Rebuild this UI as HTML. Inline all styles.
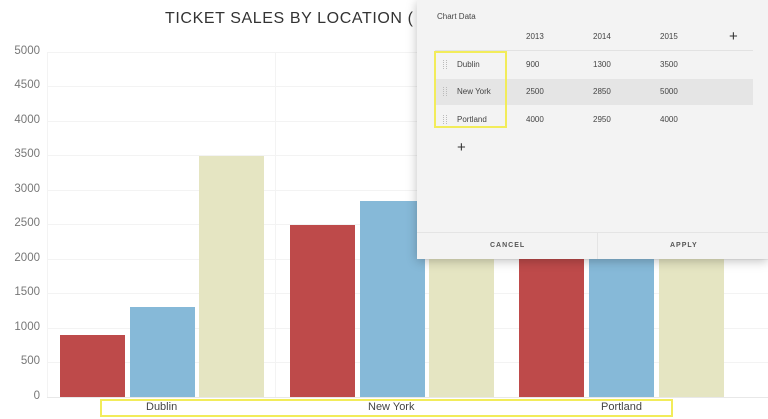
<!DOCTYPE html>
<html><head><style>
body{margin:0;width:768px;height:419px;overflow:hidden;background:#fff;font-family:"Liberation Sans",sans-serif;position:relative}
.a{position:absolute}
.yl{position:absolute;left:0;width:40px;text-align:right;font-size:11.5px;color:#777}
.g{position:absolute;left:47px;width:721px;height:1px;background:#f3f3f3}
.b{position:absolute;width:65px}
.r{background:#be4a4a}.u{background:#86b9d8}.e{background:#e5e5c2}
.t{position:absolute;font-size:8px;color:#444}
</style></head><body>
<div class="a" style="left:165px;top:10px;font-size:16px;letter-spacing:0.6px;color:#333;white-space:nowrap">TICKET SALES BY LOCATION (</div>
<div class="g" style="top:52px"></div><div class="g" style="top:86px"></div><div class="g" style="top:121px"></div><div class="g" style="top:155px"></div><div class="g" style="top:190px"></div><div class="g" style="top:224px"></div><div class="g" style="top:259px"></div><div class="g" style="top:293px"></div><div class="g" style="top:328px"></div><div class="g" style="top:362px"></div><div class="g" style="top:397px;background:#e8e8e8"></div>
<div class="a" style="left:47px;top:52px;width:1px;height:345px;background:#f3f3f3"></div>
<div class="a" style="left:275px;top:52px;width:1px;height:345px;background:#f3f3f3"></div>
<div class="yl" style="top:45px">5000</div><div class="yl" style="top:79px">4500</div><div class="yl" style="top:114px">4000</div><div class="yl" style="top:148px">3500</div><div class="yl" style="top:183px">3000</div><div class="yl" style="top:217px">2500</div><div class="yl" style="top:252px">2000</div><div class="yl" style="top:286px">1500</div><div class="yl" style="top:321px">1000</div><div class="yl" style="top:355px">500</div><div class="yl" style="top:390px">0</div>
<div class="b r" style="left:60px;top:335px;height:62px"></div>
<div class="b u" style="left:130px;top:307px;height:90px"></div>
<div class="b e" style="left:199px;top:156px;height:241px"></div>
<div class="b r" style="left:290px;top:225px;height:172px"></div>
<div class="b u" style="left:360px;top:201px;height:196px"></div>
<div class="b e" style="left:429px;top:52px;height:345px"></div>
<div class="b r" style="left:519px;top:121px;height:276px"></div>
<div class="b u" style="left:589px;top:194px;height:203px"></div>
<div class="b e" style="left:659px;top:121px;height:276px"></div>
<div class="a" style="left:100px;top:399px;width:569px;height:14px;border:2px solid #f2ec5a"></div>
<div class="a" style="left:146px;top:401px;font-size:11px;color:#444">Dublin</div>
<div class="a" style="left:368px;top:401px;font-size:11px;color:#444">New York</div>
<div class="a" style="left:601px;top:401px;font-size:11px;color:#444">Portland</div>
<div class="a" style="left:417px;top:0;width:351px;height:259px;background:#f3f3f3;box-shadow:0 2px 10px rgba(0,0,0,.25)">
<div class="t" style="left:20px;top:12px">Chart Data</div>
<div class="t" style="left:109px;top:32px">2013</div><div class="t" style="left:176px;top:32px">2014</div><div class="t" style="left:243px;top:32px">2015</div>
<div class="a" style="left:312px;top:28px;font-size:15px;color:#333">+</div>
<div class="a" style="left:18px;top:50px;width:318px;height:1px;background:#e2e2e2"></div>
<div class="a" style="left:18px;top:79px;width:318px;height:26px;background:#e5e5e5"></div>
<div class="t" style="left:40px;top:60px">Dublin</div><div class="t" style="left:109px;top:60px">900</div><div class="t" style="left:176px;top:60px">1300</div><div class="t" style="left:243px;top:60px">3500</div>
<div class="t" style="left:40px;top:87px">New York</div><div class="t" style="left:109px;top:87px">2500</div><div class="t" style="left:176px;top:87px">2850</div><div class="t" style="left:243px;top:87px">5000</div>
<div class="t" style="left:40px;top:115px">Portland</div><div class="t" style="left:109px;top:115px">4000</div><div class="t" style="left:176px;top:115px">2950</div><div class="t" style="left:243px;top:115px">4000</div>
<div class="a" style="left:26px;top:60px;width:2px;height:9px;border-left:1px dotted #bbb;border-right:1px dotted #bbb"></div>
<div class="a" style="left:26px;top:87px;width:2px;height:9px;border-left:1px dotted #bbb;border-right:1px dotted #bbb"></div>
<div class="a" style="left:26px;top:115px;width:2px;height:9px;border-left:1px dotted #bbb;border-right:1px dotted #bbb"></div>
<div class="a" style="left:17px;top:51px;width:69px;height:73px;border:2px solid #f2ec5a"></div>
<div class="a" style="left:40px;top:139px;font-size:15px;color:#333">+</div>
<div class="a" style="left:0;top:232px;width:351px;height:1px;background:#e4e4e4"></div>
<div class="a" style="left:180px;top:232px;width:1px;height:27px;background:#e4e4e4"></div>
<div class="a" style="left:73px;top:242px;font-size:7px;letter-spacing:1px;color:#555;font-weight:bold">CANCEL</div>
<div class="a" style="left:253px;top:242px;font-size:7px;letter-spacing:1px;color:#555;font-weight:bold">APPLY</div>
</div>
</body></html>
